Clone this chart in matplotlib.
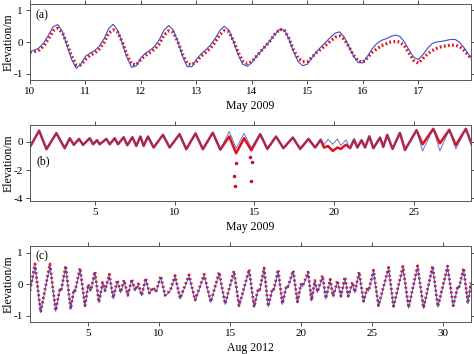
import numpy as np
import matplotlib
matplotlib.use('Agg')
import matplotlib.pyplot as plt

plt.rcParams['font.family'] = ['Liberation Serif', 'DejaVu Serif']
plt.rcParams['axes.unicode_minus'] = False

# (a) May 2009, 2-hourly samples from day 10.0
t_a_start = 10.0
model_a = [
    -0.30, -0.26, -0.18, -0.02, 0.22, 0.48, 0.55, 0.33, -0.12, -0.55, -0.83, -0.70,
    -0.45, -0.35, -0.27, -0.13, 0.10, 0.42, 0.56, 0.36, -0.05, -0.50, -0.80, -0.75,
    -0.50, -0.35, -0.26, -0.13, 0.08, 0.38, 0.52, 0.38, 0.00, -0.45, -0.78, -0.78,
    -0.55, -0.38, -0.25, -0.10, 0.10, 0.35, 0.50, 0.38, 0.02, -0.40, -0.70, -0.77,
    -0.65, -0.45, -0.28, -0.12, 0.05, 0.25, 0.40, 0.38, 0.10, -0.30, -0.62, -0.75,
    -0.70, -0.50, -0.30, -0.15, 0.00, 0.15, 0.28, 0.32, 0.15, -0.15, -0.45, -0.65,
    -0.66, -0.45, -0.22, -0.05, 0.05, 0.10, 0.17, 0.22, 0.18, 0.00, -0.25, -0.48,
    -0.55, -0.40, -0.20, -0.05, 0.00, 0.02, 0.05, 0.08, 0.08, -0.02, -0.20, -0.42, -0.60,
]
obs_a = [
    -0.32, -0.30, -0.25, -0.12, 0.10, 0.35, 0.43, 0.30, -0.05, -0.45, -0.72, -0.72,
    -0.55, -0.42, -0.35, -0.22, -0.02, 0.28, 0.38, 0.30, -0.02, -0.42, -0.70, -0.72,
    -0.55, -0.42, -0.33, -0.22, -0.05, 0.22, 0.35, 0.30, 0.00, -0.38, -0.68, -0.72,
    -0.62, -0.45, -0.33, -0.20, -0.02, 0.22, 0.36, 0.32, 0.05, -0.32, -0.60, -0.68,
    -0.62, -0.45, -0.28, -0.12, 0.05, 0.25, 0.40, 0.38, 0.12, -0.25, -0.52, -0.62,
    -0.62, -0.48, -0.33, -0.22, -0.10, 0.03, 0.15, 0.19, 0.08, -0.15, -0.42, -0.60,
    -0.64, -0.50, -0.33, -0.22, -0.12, -0.06, 0.00, 0.02, 0.00, -0.12, -0.35, -0.58,
    -0.67, -0.52, -0.38, -0.27, -0.20, -0.15, -0.12, -0.10, -0.10, -0.15, -0.28, -0.45, -0.60,
]

# (b) May 2009, turning points
t_b = [0.94, 1.52, 1.98, 2.6, 3.12, 3.44, 3.69, 4.02, 4.27, 4.69, 4.9, 5.15, 5.31,
       5.73, 5.94, 6.25, 6.46, 6.81, 7.04, 7.36, 7.6, 7.86, 8.06, 8.33, 8.69, 9.27,
       9.69, 10.31, 10.73, 11.31, 11.77, 12.39, 12.86, 13.42, 13.85, 14.35, 14.8,
       15.36, 15.8, 16.35, 16.81, 17.4, 17.86, 18.38, 18.79, 19.14, 19.35, 19.6,
       19.9, 20.19, 20.4, 20.73, 20.98, 21.23, 21.44, 21.7, 21.92, 22.19, 22.44,
       22.86, 23.06, 23.31, 23.64, 24.1, 24.42, 25.14, 25.52, 26.19, 26.6, 27.19,
       27.6, 28.23, 28.6]
model_b = [-0.38, 0.80, -0.52, 0.62, -0.45, 0.26, -0.21, 0.21, -0.21, 0.26, -0.17, 0.12, -0.17,
           0.21, -0.17, 0.26, -0.17, 0.33, -0.24, 0.33, -0.29, 0.38, -0.29, 0.38, -0.40, 0.50,
           -0.40, 0.55, -0.52, 0.60, -0.52, 0.65, -0.55, 0.74, -0.45, 0.60, -0.42,
           0.60, -0.50, 0.38, -0.45, 0.31, -0.50, 0.21, -0.40, 0.21, -0.20, 0.18,
           -0.17, 0.21, -0.26, 0.14, -0.45, 0.26, -0.40, 0.12, -0.40, 0.40, -0.45,
           0.31, -0.36, 0.50, -0.50, 0.64, -0.57, 0.83, -0.64, 0.93, -0.64, 0.86,
           -0.50, 0.93, -0.20]
obs_b = [-0.38, 0.80, -0.52, 0.62, -0.45, 0.26, -0.21, 0.21, -0.21, 0.26, -0.17, 0.12, -0.17,
         0.21, -0.17, 0.26, -0.17, 0.33, -0.24, 0.33, -0.29, 0.38, -0.29, 0.38, -0.40, 0.50,
         -0.40, 0.55, -0.52, 0.60, -0.52, 0.65, -0.55, 0.38, -0.81, 0.26, -0.60,
         0.55, -0.50, 0.38, -0.45, 0.31, -0.50, 0.21, -0.40, 0.14, -0.40, -0.30,
         -0.64, -0.40, -0.50, -0.20, -0.45, 0.15, -0.40, 0.12, -0.40, 0.40, -0.45,
         0.31, -0.36, 0.50, -0.50, 0.64, -0.57, 0.83, -0.17, 0.93, -0.10, 0.86,
         -0.24, 0.93, -0.20]
spike_t = [13.7, 13.8, 13.86, 14.73, 14.8, 14.85]
spike_v = [-2.43, -3.14, -1.48, -1.09, -2.80, -1.40]

# (c) Aug 2012, turning points
t_c = [0.92, 1.27, 1.67, 2.32, 2.73, 3.03, 3.13, 3.43, 3.78, 4.01, 4.1, 4.44, 4.79,
       5.02, 5.19, 5.49, 5.77, 6.03, 6.2, 6.5, 6.78, 7.06, 7.3, 7.54, 7.8, 8.08,
       8.31, 8.54, 8.78, 9.06, 9.32, 9.56, 9.79, 10.12, 10.42, 10.6, 10.8, 11.13,
       11.48, 12.11, 12.54, 13.17, 13.64, 14.23, 14.65, 15.27, 15.63, 16.34, 16.69,
       16.97, 17.08, 17.39, 17.68, 17.98, 18.08, 18.38, 18.68, 18.96, 19.06, 19.44,
       19.74, 19.98, 20.1, 20.49, 20.73, 20.96, 21.15, 21.5, 21.74, 22.04, 22.25,
       22.56, 22.8, 23.08, 23.31, 23.61, 23.78, 24.08, 24.39, 24.62, 24.75, 25.09,
       25.44, 26.15, 26.5, 27.16, 27.56, 28.19, 28.61, 29.25, 29.62, 30.3, 30.7,
       31.03, 31.12, 31.43, 31.73, 31.95]
model_c = [-0.22, 0.60, -0.90, 0.60, -0.86, -0.13, -0.18, 0.55, -0.80, -0.18, -0.22, 0.48, -0.70,
           -0.02, -0.22, 0.37, -0.59, 0.04, -0.22, 0.28, -0.46, 0.10, -0.27, 0.10, -0.37, 0.13,
           -0.21, -0.02, -0.37, 0.16, -0.30, -0.12, -0.25, 0.23, -0.37, -0.30, -0.20, 0.24,
           -0.47, 0.26, -0.52, 0.28, -0.58, 0.35, -0.64, 0.39, -0.70, 0.44, -0.74,
           -0.17, -0.20, 0.48, -0.72, -0.15, -0.18, 0.43, -0.64, -0.07, -0.10, 0.40,
           -0.58, -0.02, -0.08, 0.35, -0.53, 0.08, -0.26, 0.24, -0.47, 0.12, -0.40,
           0.08, -0.40, 0.20, -0.40, 0.03, -0.27, 0.36, -0.56, -0.17, -0.22, 0.41,
           -0.70, 0.50, -0.72, 0.53, -0.76, 0.55, -0.77, 0.55, -0.73, 0.54, -0.70,
           -0.06, -0.10, 0.48, -0.62, 0.04]
obs_c = [-0.20, 0.65, -0.88, 0.65, -0.84, -0.12, -0.16, 0.60, -0.78, -0.16, -0.20, 0.52, -0.68,
         0.00, -0.20, 0.41, -0.57, 0.06, -0.20, 0.32, -0.44, 0.14, -0.25, 0.14, -0.35, 0.17,
         -0.19, 0.02, -0.35, 0.20, -0.28, -0.10, -0.23, 0.27, -0.35, -0.28, -0.18, 0.28,
         -0.45, 0.30, -0.50, 0.32, -0.56, 0.39, -0.62, 0.43, -0.68, 0.48, -0.72,
         -0.15, -0.18, 0.52, -0.70, -0.13, -0.16, 0.47, -0.62, -0.05, -0.08, 0.44,
         -0.56, 0.00, -0.06, 0.39, -0.51, 0.12, -0.24, 0.28, -0.45, 0.16, -0.38,
         0.12, -0.38, 0.24, -0.38, 0.07, -0.25, 0.40, -0.54, -0.15, -0.20, 0.45,
         -0.68, 0.54, -0.70, 0.57, -0.74, 0.59, -0.75, 0.59, -0.71, 0.58, -0.68,
         -0.04, -0.08, 0.52, -0.60, 0.06]

blue = '#3b4fc4'
red = '#e3101c'
fs = 8

fig = plt.figure(figsize=(4.74, 3.54), dpi=100)
W, H = 474, 354


def make_ax(top, bottom):
    return fig.add_axes([30 / W, 1 - bottom / H, 441 / W, (bottom - top) / H])


def style(ax):
    ax.tick_params(direction='out', top=True, right=True, labeltop=False, labelright=False,
                   length=3, width=0.6, labelsize=fs, pad=2, colors='#333333', labelcolor='black')
    for s in ax.spines.values():
        s.set_linewidth(0.7)
        s.set_color('#555555')
    ax.set_ylabel('Elevation/m', fontsize=fs + 0.5)
    ax.yaxis.set_label_coords(-0.036, 0.5)


# panel (a)
ax = make_ax(4, 80)
t_a = t_a_start + np.arange(len(model_a)) / 12
ax.plot(t_a, obs_a, color=red, lw=2.3, ls=(0, (0.55, 0.75)))
ax.plot(t_a, model_a, color=blue, lw=0.8)
ax.set_xlim(10, 17.95)
ax.set_ylim(-1.2, 1.2)
ax.set_xticks([10, 11, 12, 13, 14, 15, 16, 17])
ax.set_yticks([-1, 0, 1])
ax.set_xlabel('May 2009', fontsize=fs + 0.5, labelpad=3)
ax.text(0.013, 0.93, '(a)', transform=ax.transAxes, fontsize=fs + 0.5, va='top')
style(ax)

# panel (b)
ax = make_ax(125, 201)
ax.plot(t_b, obs_b, color=red, lw=1.8)
ax.plot(t_b, model_b, color=blue, lw=0.8, alpha=0.7)
ax.plot(spike_t, spike_v, 'o', color=red, ms=2.2, mec='#900010', mew=0.3)
ax.set_xlim(0.95, 28.55)
ax.set_ylim(-4.2, 1.2)
ax.set_xticks([5, 10, 15, 20, 25])
ax.set_yticks([-4, -2, 0])
ax.set_xlabel('May 2009', fontsize=fs + 0.5, labelpad=3)
ax.text(0.015, 0.60, '(b)', transform=ax.transAxes, fontsize=fs + 0.5, va='top')
style(ax)

# panel (c)
ax = make_ax(246, 322)
ax.plot(t_c, obs_c, color=red, lw=2.0, ls=(0, (0.7, 0.9)))
ax.plot(t_c, model_c, color=blue, lw=0.7, alpha=0.9)
ax.set_xlim(0.92, 31.95)
ax.set_ylim(-1.2, 1.22)
ax.set_xticks([5, 10, 15, 20, 25, 30])
ax.set_yticks([-1, 0, 1])
ax.set_xlabel('Aug 2012', fontsize=fs + 0.5, labelpad=3)
ax.text(0.013, 0.95, '(c)', transform=ax.transAxes, fontsize=fs + 0.5, va='top')
style(ax)

fig.savefig('out.png', dpi=100)
